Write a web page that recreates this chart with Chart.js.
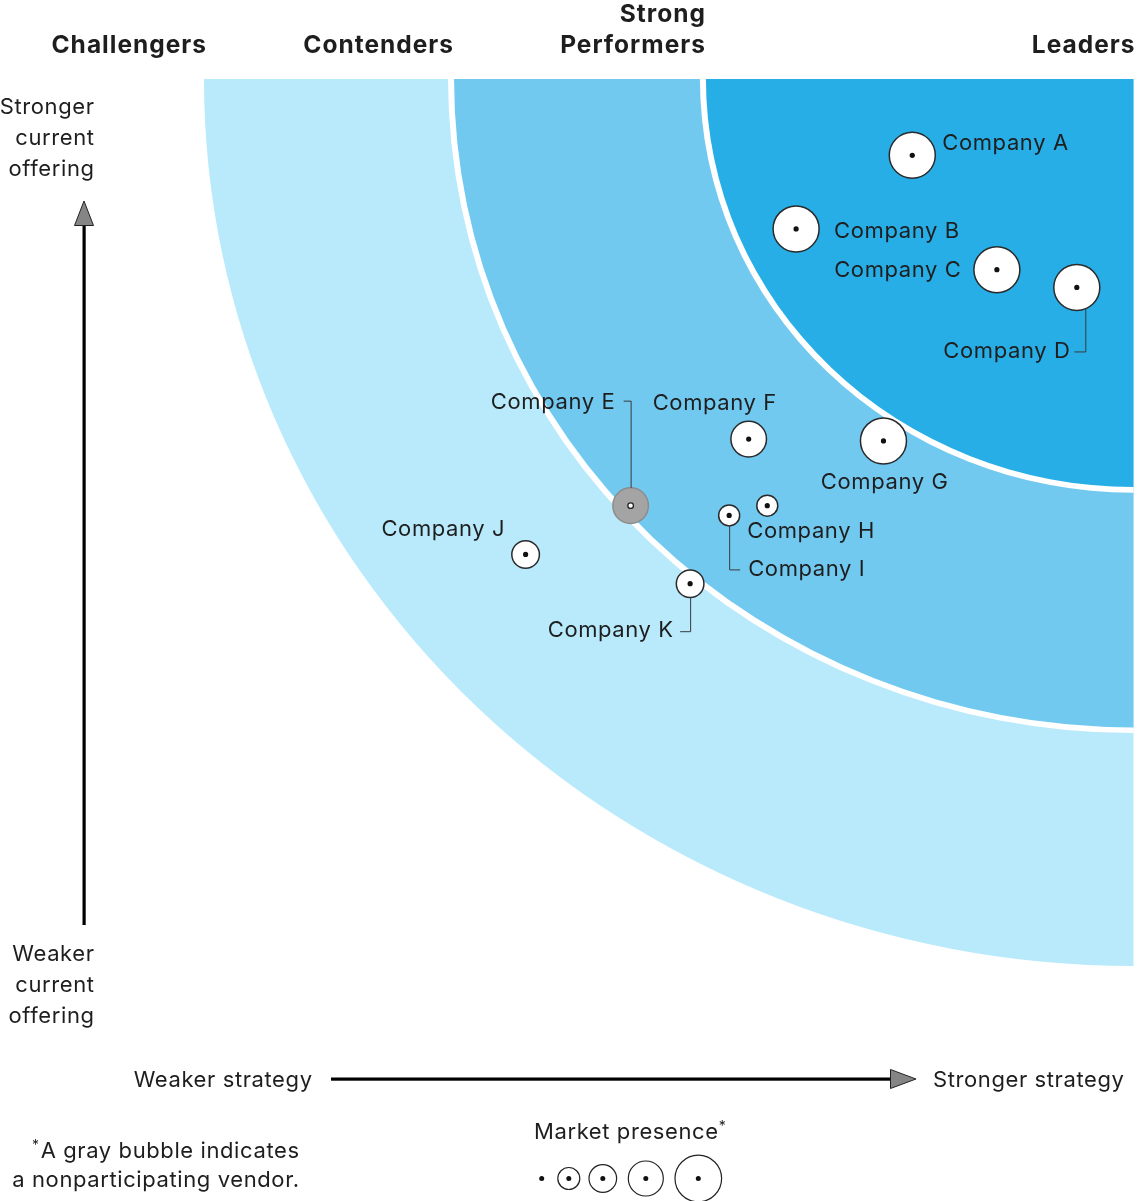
<!DOCTYPE html>
<html><head><meta charset="utf-8">
<style>html,body{margin:0;padding:0;background:#fff;overflow:hidden;width:1140px;height:1201px}#wrap{position:relative;width:1140px;height:1201px;overflow:hidden}canvas{display:block}</style>
<script src="https://cdn.jsdelivr.net/npm/chart.js@4.4.1/dist/chart.umd.min.js"></script>
</head><body><div id="wrap"><canvas id="c" width="1158" height="1201" style="width:1158px;height:1201px"></canvas></div>
<script>
// ---- data ----
const companies = ["Company A","Company B","Company C","Company D","Company E","Company F","Company G","Company H","Company I","Company J","Company K"];
const strategy        = [7.62, 6.37, 8.53, 9.39, 4.59, 5.86, 7.31, 6.06, 5.65, 3.46, 5.23];
const currentOffering = [9.14, 8.31, 7.85, 7.65, 5.19, 5.94, 5.92, 5.19, 5.08, 4.64, 4.31];
const marketPresence  = [4, 4, 4, 4, 3, 3, 4, 1, 1, 2, 2];
const participating   = [true, true, true, true, false, true, true, true, true, true, true];
const segments = ["Challengers", "Contenders", "Strong Performers", "Leaders"];
const segmentRadii = [10, 7.31, 4.6];   // outer radius of each wave band, in scale units from the top-right corner
const presenceLevels = [0, 1, 2, 3, 4];

// ---- styles ----
const FONT = "Inter";
const TXT = "#1e1e1e";
const bandColors = ["#b8eafb", "#72c9f0", "#28aee6"];
const presenceRadius = [2.5, 10.5, 13.8, 17.8, 23];
const legendRadius = [2.5, 11, 13.8, 17.5, 23.3];
const REG = `400 22px ${FONT}`, BOLD = `700 24.5px ${FONT}`, REG_LS = "0.6px", BOLD_LS = "1px";
// label placement relative to bubble centre: [dx, dy, align, leader]
const labelPos = [
  [30, -12, "left"],
  [38, 2, "left"],
  [-36, 1, "right"],
  [-7, 64, "right", "D"],
  [-16, -103, "right", "E"],
  [-96, -36, "left"],
  [-62.6, 41, "left"],
  [-20, 26, "left"],
  [19, 54, "left", "I"],
  [-21, -25, "right"],
  [-17, 47, "right", "K"]
];

function ellipse(ctx, cx, cy, rx, ry, color) {
  ctx.beginPath();
  ctx.ellipse(cx, cy, rx, ry, 0, 0, Math.PI * 2);
  ctx.fillStyle = color;
  ctx.fill();
}

const wavePlugin = {
  id: "wave",
  beforeDatasetsDraw(chart) {
    const { ctx, chartArea: a, scales: { x, y } } = chart;
    const cx = x.getPixelForValue(x.max), cy = y.getPixelForValue(y.max);
    const gap = 6;
    ctx.save();
    ctx.beginPath(); ctx.rect(a.left, a.top, a.right - a.left, a.bottom - a.top); ctx.clip();
    segmentRadii.forEach((r, i) => {
      const rx = cx - x.getPixelForValue(x.max - r);
      const ry = y.getPixelForValue(y.max - r) - cy;
      if (i > 0) ellipse(ctx, cx, cy, rx + gap, ry + gap * ry / rx, "#ffffff");
      ellipse(ctx, cx, cy, rx, ry, bandColors[i]);
    });
    ctx.restore();
  }
};

function text(ctx, s, x, y, font, align, ls) {
  ctx.font = font; ctx.textAlign = align || "left"; ctx.textBaseline = "middle";
  ctx.letterSpacing = ls || "0px";
  let xx = x;
  if (align === "right" && ls) xx = x + parseFloat(ls);
  ctx.fillStyle = TXT; ctx.fillText(s, xx, y);
  ctx.letterSpacing = "0px";
}
function measure(ctx, s, font, ls) {
  ctx.font = font; ctx.letterSpacing = ls || "0px";
  const w = ctx.measureText(s).width; ctx.letterSpacing = "0px"; return w;
}

const labelPlugin = {
  id: "labels",
  afterDatasetsDraw(chart) {
    const { ctx } = chart;
    const meta = chart.getDatasetMeta(0);
    ctx.save();
    meta.data.forEach((el, i) => {
      const [dx, dy, align, leader] = labelPos[i];
      const r = presenceRadius[marketPresence[i]];
      const px = el.x, py = el.y;
      text(ctx, companies[i], px + dx, py + dy, REG, align, REG_LS);
      if (leader) {
        ctx.beginPath(); ctx.strokeStyle = "#3a3a3a"; ctx.lineWidth = 1;
        if (leader === "D") {
          const lx = px + 8.5;
          ctx.moveTo(lx + 0.5, py + Math.sqrt(r * r - 8.5 * 8.5)); ctx.lineTo(lx + 0.5, py + dy + 0.5); ctx.lineTo(lx - 11, py + dy + 0.5);
        } else if (leader === "E") {
          ctx.moveTo(px + 0.5, py - r); ctx.lineTo(px + 0.5, py + dy - 1.5); ctx.lineTo(px - 7, py + dy - 1.5);
        } else if (leader === "I") {
          ctx.moveTo(px + 0.5, py + r); ctx.lineTo(px + 0.5, py + dy + 0.5); ctx.lineTo(px + 11, py + dy + 0.5);
        } else if (leader === "K") {
          ctx.moveTo(px + 0.5, py + r); ctx.lineTo(px + 0.5, py + dy + 1); ctx.lineTo(px - 10, py + dy + 1);
        }
        ctx.stroke();
      }
    });
    ctx.restore();
  },
  afterDraw(chart) {
    const { ctx, scales: { x } } = chart;
    ctx.save();
    // segment headers, right-aligned on each band's left edge
    const cxMax = x.getPixelForValue(x.max);
    const edges = segmentRadii.map(r => x.getPixelForValue(x.max - r) + 2).concat([cxMax + 1]);
    text(ctx, segments[0], edges[0], 46, BOLD, "right", BOLD_LS);
    text(ctx, segments[1], edges[1] - 3, 46, BOLD, "right", BOLD_LS);
    const sp = segments[2].split(" ");
    text(ctx, sp[0], edges[2] - 3, 15, BOLD, "right", BOLD_LS);
    text(ctx, sp[1], edges[2] - 3, 46, BOLD, "right", BOLD_LS);
    text(ctx, segments[3], edges[3], 46, BOLD, "right", BOLD_LS);
    // y axis
    ["Stronger", "current", "offering"].forEach((s, i) => text(ctx, s, 94, 107 + i * 31, REG, "right", REG_LS));
    ["Weaker", "current", "offering"].forEach((s, i) => text(ctx, s, 94, 954 + i * 31, REG, "right", REG_LS));
    ctx.fillStyle = "#000"; ctx.fillRect(82.5, 224, 3.2, 701);
    ctx.beginPath(); ctx.moveTo(84, 201); ctx.lineTo(93.5, 225.5); ctx.lineTo(74.5, 225.5); ctx.closePath();
    ctx.fillStyle = "#858585"; ctx.fill(); ctx.strokeStyle = "#222"; ctx.lineWidth = 1; ctx.stroke();
    // x axis
    text(ctx, "Weaker strategy", 312, 1080, REG, "right", REG_LS);
    text(ctx, "Stronger strategy", 933, 1080, REG, "left", REG_LS);
    ctx.fillStyle = "#000"; ctx.fillRect(331, 1077.5, 561, 3.2);
    ctx.beginPath(); ctx.moveTo(916, 1079); ctx.lineTo(890.5, 1069.5); ctx.lineTo(890.5, 1088.5); ctx.closePath();
    ctx.fillStyle = "#858585"; ctx.fill(); ctx.strokeStyle = "#222"; ctx.lineWidth = 1; ctx.stroke();
    // footnote
    const l1 = "A gray bubble indicates";
    const w1 = measure(ctx, l1, REG, REG_LS);
    text(ctx, l1, 299, 1151, REG, "right", REG_LS);
    text(ctx, "*", 299 - w1 - 1, 1146, `400 14px ${FONT}`, "right");
    text(ctx, "a nonparticipating vendor.", 299, 1180, REG, "right", REG_LS);
    // market presence legend
    const mp = "Market presence";
    const wmp = measure(ctx, mp, REG, REG_LS);
    text(ctx, mp, 534, 1132, REG, "left", REG_LS);
    text(ctx, "*", 534 + wmp, 1127, `400 14px ${FONT}`, "left");
    const lx = [541.7, 568.8, 602.8, 645.8, 698.3], ly = 1178.5;
    presenceLevels.forEach((p, i) => {
      if (p > 0) {
        ctx.beginPath(); ctx.arc(lx[i], ly, legendRadius[p], 0, Math.PI * 2);
        ctx.strokeStyle = "#222"; ctx.lineWidth = 1.2; ctx.stroke();
      }
      ctx.beginPath(); ctx.arc(lx[i], ly, 2.5, 0, Math.PI * 2); ctx.fillStyle = "#111"; ctx.fill();
    });
    ctx.restore();
  }
};

const points = companies.map((c, i) => ({ x: strategy[i], y: currentOffering[i], r: presenceRadius[marketPresence[i]] }));
const centres = companies.map((c, i) => ({ x: strategy[i], y: currentOffering[i], r: participating[i] ? 2.6 : 2.8 }));

new Chart(document.getElementById("c"), {
  type: "bubble",
  data: {
    datasets: [
      {
        label: "Vendors",
        data: points,
        order: 2,
        backgroundColor: participating.map(p => p ? "#ffffff" : "#a4a4a4"),
        borderColor: participating.map(p => p ? "#2a2a2a" : "#8c8c8c"),
        borderWidth: 1.5,
        clip: false
      },
      {
        label: "centres",
        data: centres,
        order: 1,
        backgroundColor: participating.map(p => p ? "#111111" : "#ffffff"),
        borderColor: "#222222",
        borderWidth: participating.map(p => p ? 0 : 1.3),
        clip: false
      }
    ]
  },
  options: {
    responsive: false,
    animation: false,
    devicePixelRatio: 1,
    events: [],
    layout: { padding: { left: 204, right: 24, top: 79, bottom: 235 } },
    scales: {
      x: { type: "linear", min: 0, max: 10, display: false },
      y: { type: "linear", min: 0, max: 10, display: false }
    },
    plugins: { legend: { display: false }, tooltip: { enabled: false } }
  },
  plugins: [wavePlugin, labelPlugin]
});
</script>
</body></html>
